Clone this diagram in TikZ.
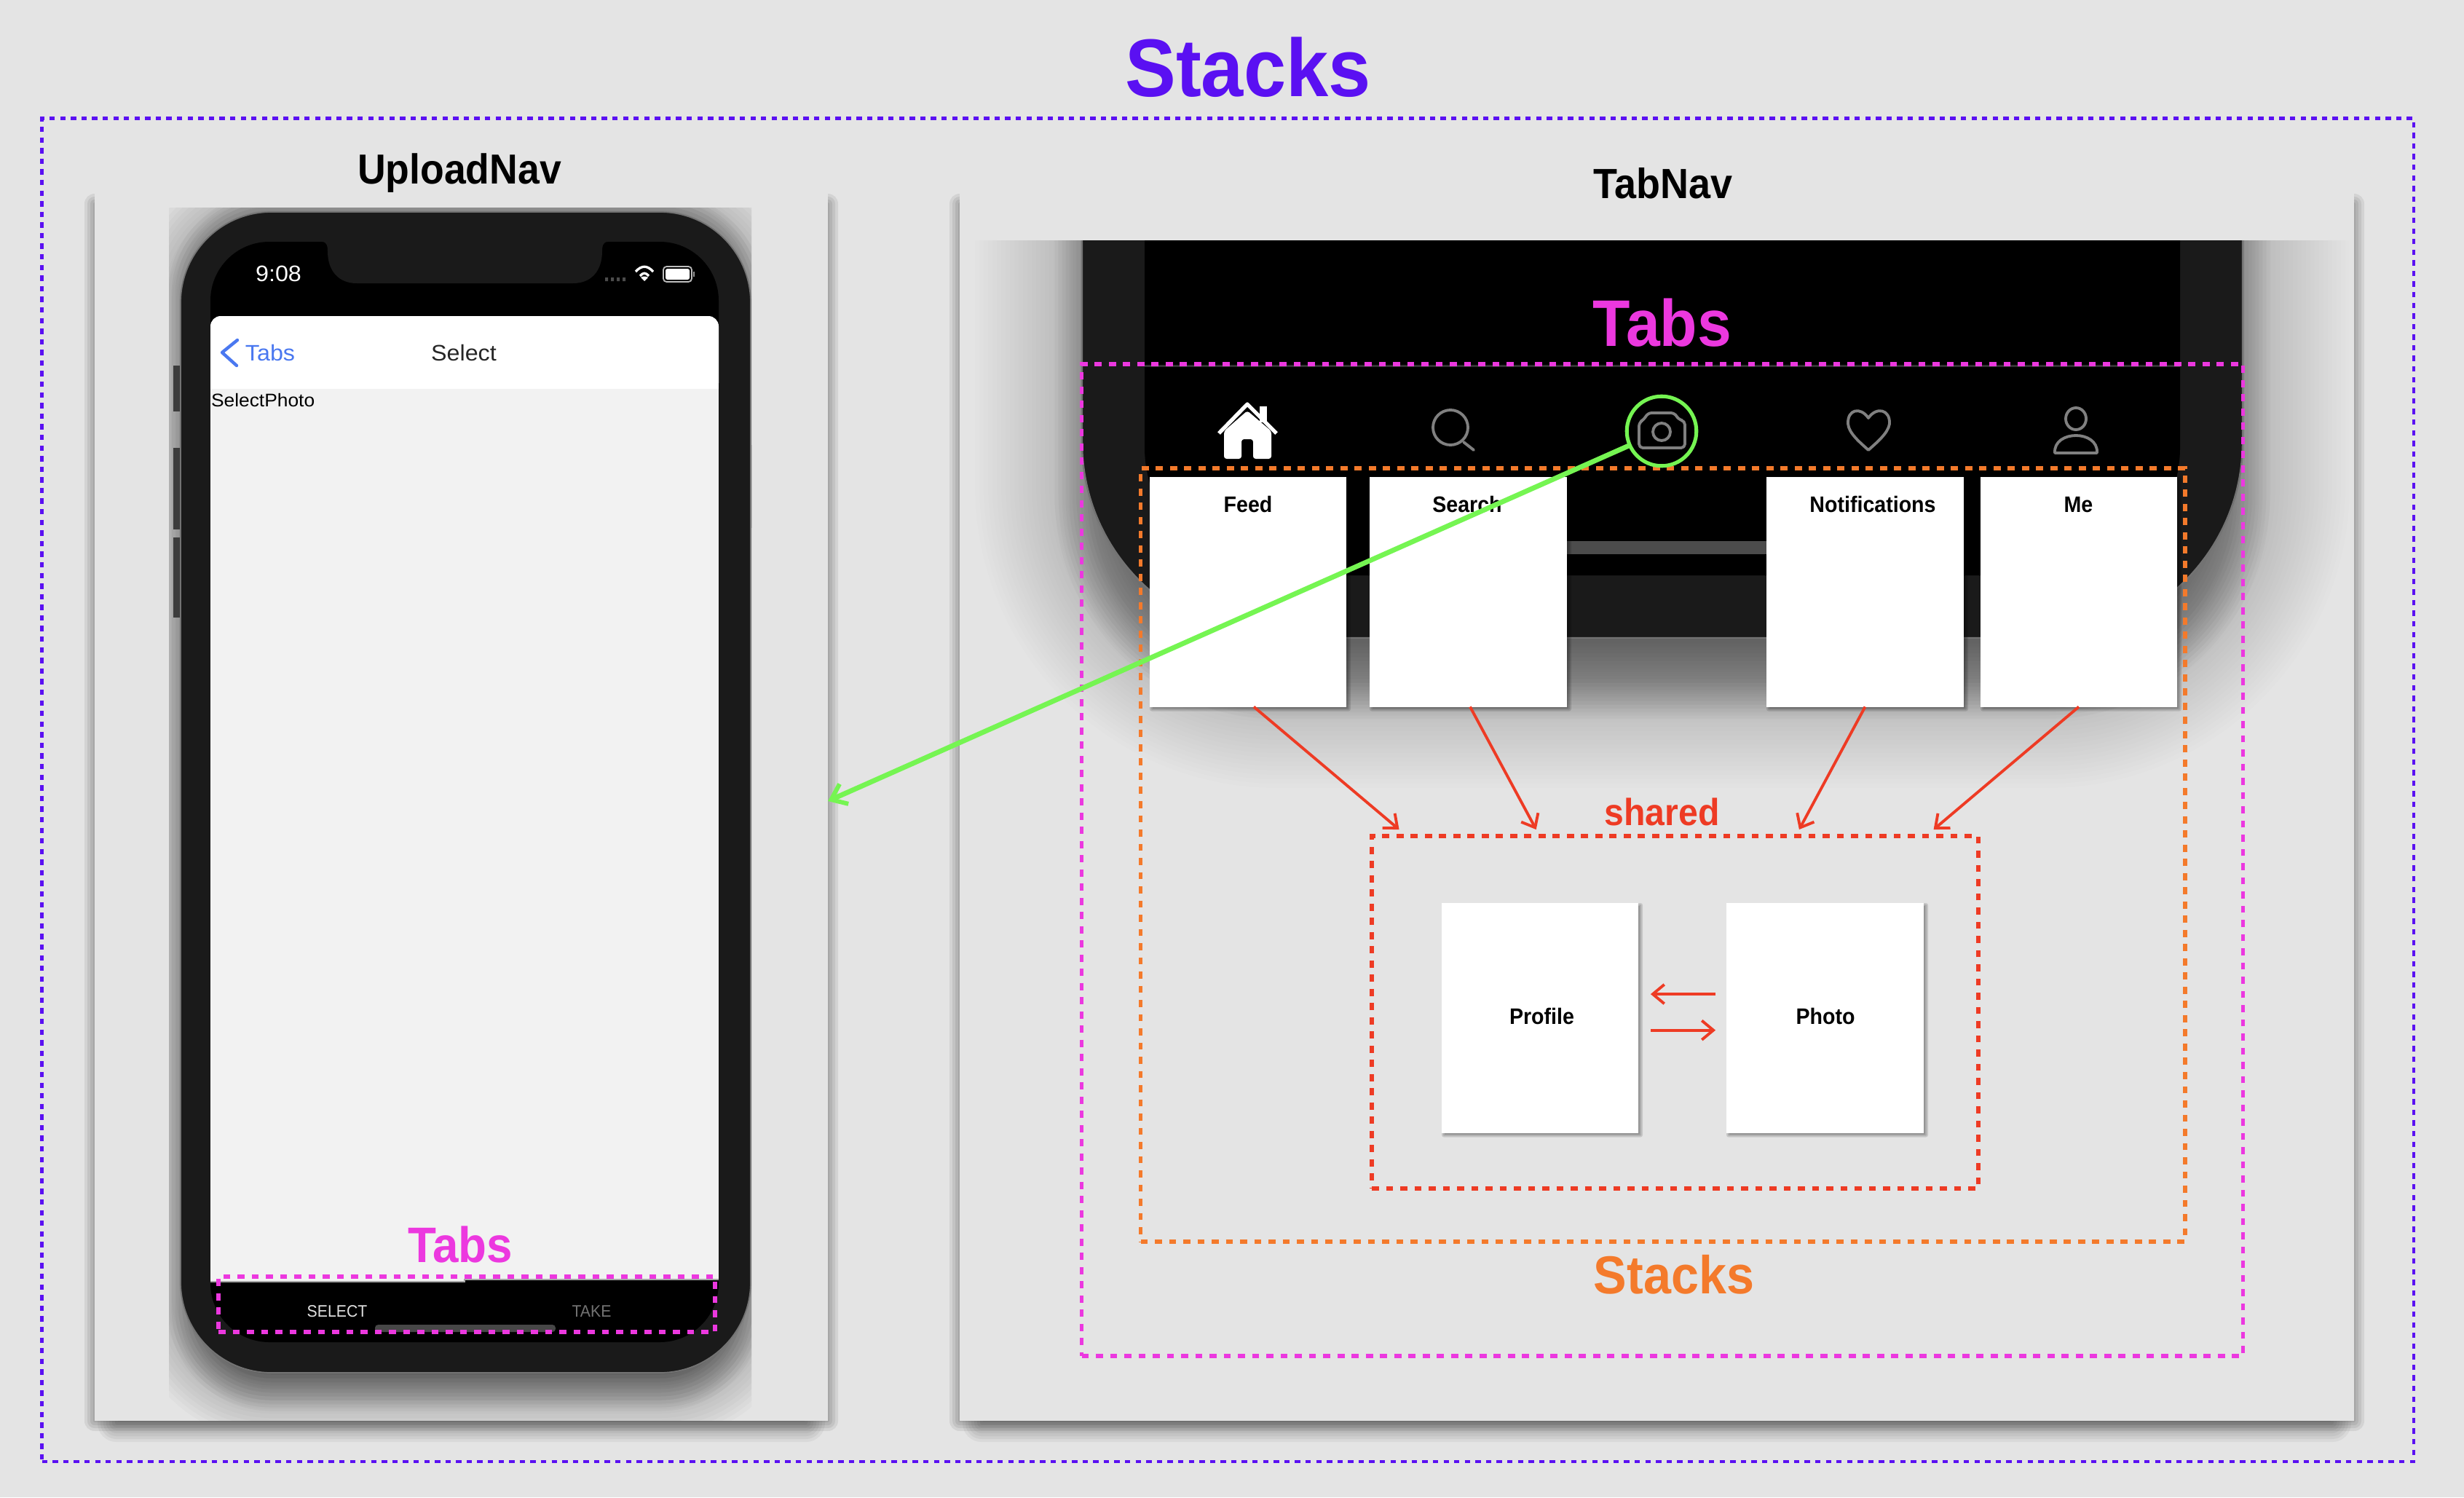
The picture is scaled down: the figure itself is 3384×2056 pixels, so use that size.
\documentclass[tikz,border=0pt]{standalone}
\usepackage{fontspec}
\setmainfont[FakeStretch=0.93]{Liberation Sans}
\newfontfamily\widefont[FakeStretch=1.05]{Liberation Sans}
\usetikzlibrary{arrows.meta,fit}
\definecolor{bgc}{HTML}{E4E4E4}
\definecolor{bezel}{HTML}{1A1A1A}
\definecolor{purp}{HTML}{5A10F2}
\definecolor{mag}{HTML}{EC38DF}
\definecolor{org}{HTML}{F47A2B}
\definecolor{redc}{HTML}{EE3B24}
\definecolor{grn}{HTML}{75F552}
\definecolor{bluec}{HTML}{4A78F0}
\definecolor{icon}{HTML}{808080}
\definecolor{sheet}{HTML}{F2F2F2}
\tikzset{
 panelbox/.style={fill=bgc,inner sep=0,outer sep=0},
 cardbox/.style={fill=white,inner sep=0,outer sep=0},
 dashbox/.style={draw=#1,line width=2.9pt,dash pattern=on 5.6pt off 5.5pt,inner sep=0,outer sep=0},
 purpbox/.style={draw=purp,line width=2.7pt,dash pattern=on 4.2pt off 4.1pt,inner sep=0,outer sep=0},
 txt/.style={anchor=base,inner sep=0,outer sep=0,text=#1},
 redarrow/.style={draw=redc,line width=2.2pt,-{Straight Barb[length=9pt,width=15pt,line width=2.2pt]}},
 grnarrow/.style={draw=grn,line width=3.9pt,-{Straight Barb[length=11pt,width=17pt,line width=3.4pt]}},
 iconline/.style={draw=icon,line width=2.2pt,line cap=round,line join=round},
}
\newcommand\softshadow[8]{%
 \foreach \shI in {1,...,#7}{%
  \pgfmathsetmacro\shE{#6*(1-2*(\shI-0.5)/#7)}%
  \pgfmathsetmacro\shR{max(0,#5+\shE)*0.567}%
  \fill[black,fill opacity=#8,rounded corners=\shR pt] ({#1-\shE},{#2-\shE}) rectangle ({#3+\shE},{#4+\shE});
 }}
\newcommand\card[5]{%
 \softshadow{#2+3}{#3+3}{#4+3}{#5+3}{0}{4}{4}{.13}%
 \node[cardbox,fit={(#2,#3)(#4,#5)}] (#1) {};}
\newcommand\fs[1]{\fontsize{#1}{#1}\selectfont}
\begin{document}
\begin{tikzpicture}[x=0.02cm,y=-0.02cm]
\useasboundingbox (0,0) rectangle (3384,2056);
\fill[bgc] (0,0) rectangle (3384,2056);
% panels
\softshadow{130}{280}{1137}{1951}{0}{16}{8}{.076}
\softshadow{152}{1800}{1115}{1962}{8}{20}{10}{.046}
\softshadow{1318}{280}{3233}{1951}{0}{16}{8}{.076}
\softshadow{1340}{1800}{3211}{1962}{8}{20}{10}{.046}
\node[panelbox,fit={(130,250)(1137,1951)}] (uploadpanel) {};
\node[panelbox,fit={(1318,250)(3233,1951)}] (tabpanel) {};
% left phone
\begin{scope}
\clip (232,285) rectangle (1032,1950);
\softshadow{258}{291}{1021}{1910}{115}{30}{12}{.04}
\softshadow{248}{291}{1031}{1905}{125}{75}{25}{.018}
\fill[bezel!85!white] (238,502) rectangle (250,565);
\fill[bezel!85!white] (238,615) rectangle (250,727);
\fill[bezel!85!white] (238,738) rectangle (250,848);
\fill[bezel!85!white] (1026,611) rectangle (1033,725);
\fill[bezel,draw=black!55,line width=1pt,rounded corners=71pt] (248,291) rectangle (1031,1885);
\fill[black,rounded corners=46pt] (289,332) rectangle (987,1843);
\fill[bezel] (440,325) -- (442,332) .. controls (450,332) and (450,340) .. (450,345) .. controls (450,372) and (465,389) .. (490,389) -- (787,389) .. controls (812,389) and (827,372) .. (827,345) .. controls (827,340) and (827,332) .. (835,332) -- (837,325) -- cycle;
\fill[white,rounded corners=8pt] (289,540) -- (289,434) -- (987,434) -- (987,540) -- cycle;
\fill[white] (289,520) rectangle (987,534);
\fill[sheet] (289,534) rectangle (987,1757);
\fill[sheet] (289,1750) rectangle (638,1760);
\draw[black!35,line width=1pt] (289,1760) -- (638,1760) -- (638,1757) -- (987,1757);
\fill[black!72,rounded corners=2.5pt] (515,1819) rectangle (763,1829);
\end{scope}
% status bar
\node[txt=white,font=\widefont\fs{17.5}] (time) at (382.5,386) {9:08};
\fill[black!70] (831,381) rectangle (835,386) (839,381) rectangle (843,386) (847,381) rectangle (851,386) (855,381) rectangle (859,386);
\draw[white,line width=1.9pt] (873,373) .. controls (881,364) and (889,364) .. (897,373);
\draw[white,line width=1.9pt] (879,379) .. controls (883,374) and (887,374) .. (891,379);
\fill[white] (885,386) -- (880,381) .. controls (883,379) and (887,379) .. (890,381) -- cycle;
\draw[white!75!black,line width=1pt,rounded corners=2.5pt] (911,366) rectangle (950,387);
\fill[white,rounded corners=1.5pt] (914,369) rectangle (947,384);
\fill[white!60!black] (952,373) rectangle (954,380);
% nav bar
\draw[bluec,line width=2.5pt,line cap=round,line join=round] (326,467) -- (305,484) -- (325,502);
\node[txt=bluec,font=\widefont\fs{17.5}] (backlabel) at (371,495) {Tabs};
\node[txt=black!85,font=\widefont\fs{17.5}] (seltitle) at (637,495) {Select};
\node[txt=black,font=\widefont\fs{14.3},anchor=base west] (selphoto) at (290,558) {SelectPhoto};
\node[txt=black!12,font=\fs{13}] (sel) at (463,1808) {SELECT};
\node[txt=black!55,font=\fs{13}] (take) at (812.5,1808) {TAKE};
\node[txt=mag,font=\fs{39}\bfseries] (tabsleft) at (632,1733) {Tabs};
\node[dashbox=mag,fit={(300,1753)(982,1829)}] (tabsleftbox) {};
% right phone
\begin{scope}
\clip (1318,330) rectangle (3233,1951);
\softshadow{1506}{-200}{3060}{930}{250}{60}{24}{.02}
\softshadow{1486}{-200}{3080}{935}{270}{150}{50}{.009}
\fill[bezel,draw=black!55,line width=1.4pt,rounded corners=153pt] (1486,-100) rectangle (3080,876);
\fill[black,rounded corners=100pt] (1572,-100) rectangle (2994,790);
\fill[black!80] (1572,501) rectangle (2994,504);
\fill[black!70] (2022,743) rectangle (2544,761);
\end{scope}
\node[txt=mag,font=\fs{51.5}\bfseries] (tabsright) at (2283,475) {Tabs};
% icons
\fill[white,rounded corners=2pt] (1681,592) -- (1713,564) -- (1746,592) -- (1746,630) -- (1721,630) -- (1721,603) -- (1705,603) -- (1705,630) -- (1681,630) -- cycle;
\fill[white] (1730,558) rectangle (1740,580);
\draw[white,line width=3pt,line join=round] (1674,595) -- (1713,555) -- (1753,595);
\draw[iconline] (1992,587) circle [radius=24];
\draw[iconline] (2010,607) -- (2024,618);
\draw[iconline,rounded corners=3pt] (2251,580) -- (2258,576) -- (2263,567) -- (2300,567) -- (2305,576) -- (2314,578) -- (2314,615) -- (2251,615) -- cycle;
\draw[iconline] (2282,593) circle [radius=12];
\draw[iconline] (2566,574) .. controls (2555,558) and (2537,562) .. (2538,582) .. controls (2539,595) and (2555,608) .. (2566,618) .. controls (2577,608) and (2593,595) .. (2595,582) .. controls (2596,562) and (2577,558) .. (2566,574) -- cycle;
\draw[iconline] (2851,575) ellipse [x radius=14,y radius=15];
\draw[iconline] (2822,622) .. controls (2820,590) and (2882,590) .. (2880,622) -- cycle;
% cards
\card{feed}{1579}{655}{1849}{970.5}
\card{search}{1881}{655}{2152}{970.5}
\card{notif}{2426}{655}{2697}{970.5}
\card{me}{2720}{655}{2990}{970.5}
\card{profile}{1980}{1240}{2250}{1555.5}
\card{photo}{2371}{1240}{2642}{1555.5}
\node[txt=black,font=\fs{17.5}\bfseries] (feedlabel) at (1714,703) {Feed};
\node[txt=black,font=\fs{17.5}\bfseries] (searchlabel) at (2015,703) {Search};
\node[txt=black,font=\fs{17.5}\bfseries] (notiflabel) at (2572,703) {Notifications};
\node[txt=black,font=\fs{17.5}\bfseries] (melabel) at (2854.5,703) {Me};
\node[txt=black,font=\fs{17.5}\bfseries] (profilelabel) at (2117.5,1406) {Profile};
\node[txt=black,font=\fs{17.5}\bfseries] (photolabel) at (2507,1406) {Photo};
% dashed groups
\node[purpbox,fit={(57.6,162.7)(3315,2007)}] (stacksbox) {};
\node[dashbox=mag,fit={(1485.6,500)(3080.7,1862)}] (tabsrightbox) {};
\node[dashbox=org,fit={(1566.5,643)(3001,1705)}] (orangebox) {};
\node[dashbox=redc,fit={(1884,1148)(2717,1632)}] (sharedbox) {};
% titles
\node[txt=purp,font=\fs{64}\bfseries] (title) at (1714,132) {Stacks};
\node[txt=black,font=\fs{32.8}\bfseries] (uploadnav) at (631,252) {UploadNav};
\node[txt=black,font=\fs{33}\bfseries] (tabnav) at (2284,272) {TabNav};
\node[txt=redc,font=\fs{29.5}\bfseries] (sharedlabel) at (2282.5,1133) {shared};
\node[txt=org,font=\fs{41.8}\bfseries] (stackslabel) at (2299,1776) {Stacks};
% connectors
\draw[redarrow] ([xshift=4.5pt]feed.south) -- ([xshift=-215.7pt,yshift=5.1pt]sharedbox.north);
\draw[redarrow] ([xshift=1.4pt]search.south) -- ([xshift=-108.6pt,yshift=5.1pt]sharedbox.north);
\draw[redarrow] (notif.south) -- ([xshift=97pt,yshift=5.1pt]sharedbox.north);
\draw[redarrow] (me.south) -- ([xshift=202.1pt,yshift=5.1pt]sharedbox.north);
\draw[redarrow] ([xshift=-8.5pt,yshift=18.6pt]photo.west) -- ([xshift=9.6pt,yshift=18.6pt]profile.east);
\draw[redarrow] ([xshift=9.6pt,yshift=-9.6pt]profile.east) -- ([xshift=-8.5pt,yshift=-9.6pt]photo.west);
\node[draw=grn,line width=2.9pt,circle,minimum size=54.4pt,inner sep=0,outer sep=0] (camring) at (2282,592) {};
\coordinate (uploadedge) at (1137,1100);
\draw[grnarrow] (camring) -- (uploadedge);
\end{tikzpicture}
\end{document}
